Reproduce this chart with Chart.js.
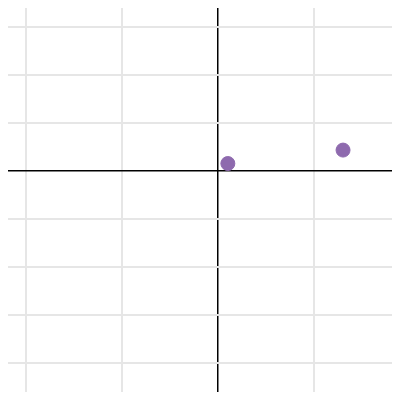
<!DOCTYPE html>
<html><head>
<script src="https://cdn.jsdelivr.net/npm/chart.js@4"></script>
<style>html,body{margin:0;padding:0;background:#fff}</style>
</head><body>
<canvas id="chart" width="400" height="400"></canvas>
<script>
const pointsX = [0.1, 1.3];
const pointsY = [0.16, 0.44];
const xTicks = [-2, -1, 0, 1];
const yTicks = [3, 2, 1, 0, -1, -2, -3, -4];

const gridColor = ctx => ctx.tick && ctx.tick.value === 0 ? '#000000' : '#e6e6e6';
const gridWidth = ctx => ctx.tick && ctx.tick.value === 0 ? 1.5 : 2;

new Chart(document.getElementById('chart'), {
  type: 'scatter',
  data: {
    datasets: [{
      data: pointsX.map((x, i) => ({ x: x, y: pointsY[i] })),
      backgroundColor: '#8e6aae',
      borderColor: '#8e6aae',
      pointRadius: 7
    }]
  },
  options: {
    responsive: false,
    animation: false,
    devicePixelRatio: 1,
    layout: { padding: 0 },
    plugins: { legend: { display: false }, tooltip: { enabled: false } },
    scales: {
      x: {
        min: -2.19, max: 1.81,
        afterBuildTicks: axis => { axis.ticks = xTicks.map(v => ({ value: v })); },
        ticks: { display: false },
        border: { display: false },
        grid: { drawTicks: false, color: gridColor, lineWidth: gridWidth }
      },
      y: {
        min: -4.6, max: 3.4,
        afterBuildTicks: axis => { axis.ticks = yTicks.map(v => ({ value: v })); },
        ticks: { display: false },
        border: { display: false },
        grid: { drawTicks: false, color: gridColor, lineWidth: gridWidth }
      }
    }
  }
});
</script>
</body></html>
